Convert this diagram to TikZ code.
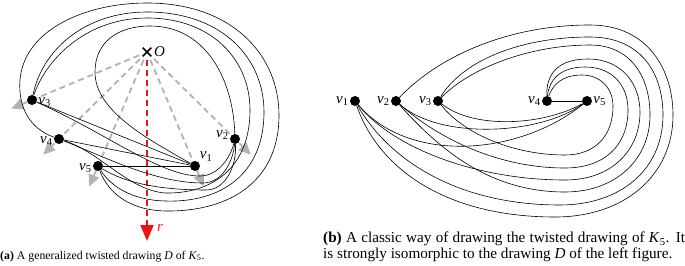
\documentclass[tikz,border=0pt]{standalone}
\usepackage{fontspec}
\setmainfont{Liberation Serif}
\usetikzlibrary{arrows.meta, calc, shapes.misc, backgrounds}
\definecolor{raygray}{RGB}{178,178,178}
\definecolor{rayred}{RGB}{235,20,20}
\newcommand{\vlab}[1]{\textit{v}\textsubscript{#1}}

\begin{document}
\begin{tikzpicture}[
    x=1pt, y=-1pt,
    font=\fontsize{11.8}{15.5}\selectfont,
    % Styles
    vtx/.style={circle, fill=black, inner sep=0pt, minimum size=10pt},
    vlbl/.style={font=\fontsize{15}{15}\selectfont, inner sep=1pt},
    edge/.style={line width=0.6pt},
    ray/.style={raygray, line width=1.8pt, dash pattern=on 6pt off 4pt, -{Triangle[length=12pt,width=11pt]}, shorten <=4pt},
    redray/.style={rayred, line width=2.2pt, dash pattern=on 6pt off 4pt, -{Triangle[length=16pt,width=13pt]}, shorten <=4pt},
    origin/.style={cross out, draw=black, line width=1.6pt, minimum size=7pt, inner sep=0pt}
]
    \useasboundingbox (0,0) rectangle (685,265);

    % Left: generalized twisted drawing
    \node[origin] (O) at (147,52) {};
    \node[vlbl, anchor=west] (Olab) at (153,52) {\textit{O}};
    \node[vtx, label={[vlbl]above right:\vlab{1}}] (a1) at (195,166) {};
    \node[vtx, label={[vlbl,yshift=4pt]left:\vlab{2}}] (a2) at (235,139) {};
    \node[vtx, label={[vlbl,yshift=-2pt]right:\vlab{3}}] (a3) at (32,100) {};
    \node[vtx, label={[vlbl,yshift=-2pt]left:\vlab{4}}] (a4) at (59,139) {};
    \node[vtx, label={[vlbl,yshift=-2pt]left:\vlab{5}}] (a5) at (98,166) {};

    % Rays from O
    \foreach \i in {1,...,5}
        \coordinate (t\i) at ($(O)!1.18!(a\i)$);
    \coordinate (rtip) at (147,241);
    \begin{scope}[on background layer]
        \foreach \i in {1,...,5}
            \draw[ray] (O) -- (t\i);
        \draw[redray] (O) -- (rtip);
    \end{scope}
    \node[vlbl, text=rayred, anchor=west] (rlab) at (156,228) {\textit{r}};

    % Edges
    \draw[edge] (a5) -- (a1);
    \draw[edge] (a3) -- (a1);
    \draw[edge] (a4) -- (a1);
    \draw[edge] (a3) .. controls (110,135) and (160,176) .. (200,176) .. controls (218,176) and (230,158) .. (a2);
    \draw[edge] (a4) .. controls (105,157) and (155,183) .. (203,183) .. controls (222,183) and (233,162) .. (a2);
    \draw[edge] (a5) .. controls (125,183) and (160,190) .. (206,190) .. controls (226,190) and (237,165) .. (a2);
    \draw[edge] (a1) .. controls (150,140) and (95,112) .. (95,72) .. controls (95,42) and (118,26) .. (150,26) .. controls (205,26) and (233,78) .. (a2);
    \draw[edge] (a3) .. controls (48,55) and (90,18) .. (147,18) .. controls (212,18) and (250,60) .. (250,110) .. controls (250,168) and (212,194) .. (165,193) .. controls (128,190) and (100,152) .. (a4);
    \draw[edge] (a3) .. controls (42,50) and (85,12) .. (147,12) .. controls (222,12) and (264,58) .. (264,112) .. controls (264,175) and (220,203) .. (165,201) .. controls (130,200) and (110,185) .. (a5);
    \draw[edge] (a4) .. controls (28,128) and (18,105) .. (20,80) .. controls (24,30) and (85,3) .. (147,3) .. controls (232,3) and (279,55) .. (279,115) .. controls (279,185) and (225,212) .. (165,211) .. controls (128,210) and (108,192) .. (a5);

    % Right: classic twisted drawing
    \node[vtx, label={[vlbl]left:\vlab{1}}] (b1) at (355,101) {};
    \node[vtx, label={[vlbl]left:\vlab{2}}] (b2) at (396,101) {};
    \node[vtx, label={[vlbl]left:\vlab{3}}] (b3) at (438,101) {};
    \node[vtx, label={[vlbl]left:\vlab{4}}] (b4) at (547,101) {};
    \node[vtx, label={[vlbl]right:\vlab{5}}] (b5) at (587,101) {};

    \draw[edge] (b4) -- (b5);
    \draw[edge] (b3) .. controls (475,130) and (545,125) .. (b5);
    \draw[edge] (b2) .. controls (440,140) and (540,135) .. (b5);
    \draw[edge] (b1) .. controls (410,165) and (520,155) .. (b5);
    \draw[edge] (b4) .. controls (553,84) and (563,75) .. (582,75) .. controls (600,75) and (613,88) .. (613,106) .. controls (613,136) and (595,155) .. (565,155) .. controls (515,155) and (465,135) .. (b3);
    \draw[edge] (b4) .. controls (549,80) and (560,67) .. (585,67) .. controls (613,67) and (628,86) .. (628,110) .. controls (628,145) and (605,168) .. (565,168) .. controls (500,168) and (440,140) .. (b2);
    \draw[edge] (b4) .. controls (546,74) and (558,59) .. (588,59) .. controls (621,59) and (640,83) .. (640,112) .. controls (640,150) and (612,180) .. (565,180) .. controls (480,180) and (395,150) .. (b1);
    \draw[edge] (b3) .. controls (470,68) and (530,45) .. (590,45) .. controls (630,45) and (650,76) .. (650,115) .. controls (650,160) and (615,192) .. (565,192) .. controls (490,192) and (440,150) .. (b2);
    \draw[edge] (b3) .. controls (465,58) and (525,37) .. (590,37) .. controls (640,37) and (663,72) .. (663,115) .. controls (663,170) and (620,205) .. (560,205) .. controls (460,205) and (390,162) .. (b1);
    \draw[edge] (b2) .. controls (440,55) and (510,25) .. (590,25) .. controls (648,25) and (673,70) .. (673,115) .. controls (673,175) and (625,217) .. (555,217) .. controls (450,217) and (380,172) .. (b1);

    % Captions
    \node[anchor=base west, inner sep=0pt] (capa) at (0,259) {\textbf{(a)} A generalized twisted drawing \textit{D} of \textit{K}\textsubscript{5}.};
    \node[anchor=north west, inner sep=0pt, text width=362pt, align=justify,
          font=\fontsize{15.2}{16}\selectfont] (capb) at (323,232) {\textbf{(b)} A classic way of drawing the twisted drawing of \textit{K}\textsubscript{5}. It\linebreak is strongly isomorphic to the drawing \textit{D} of the left figure.};
\end{tikzpicture}
\end{document}
